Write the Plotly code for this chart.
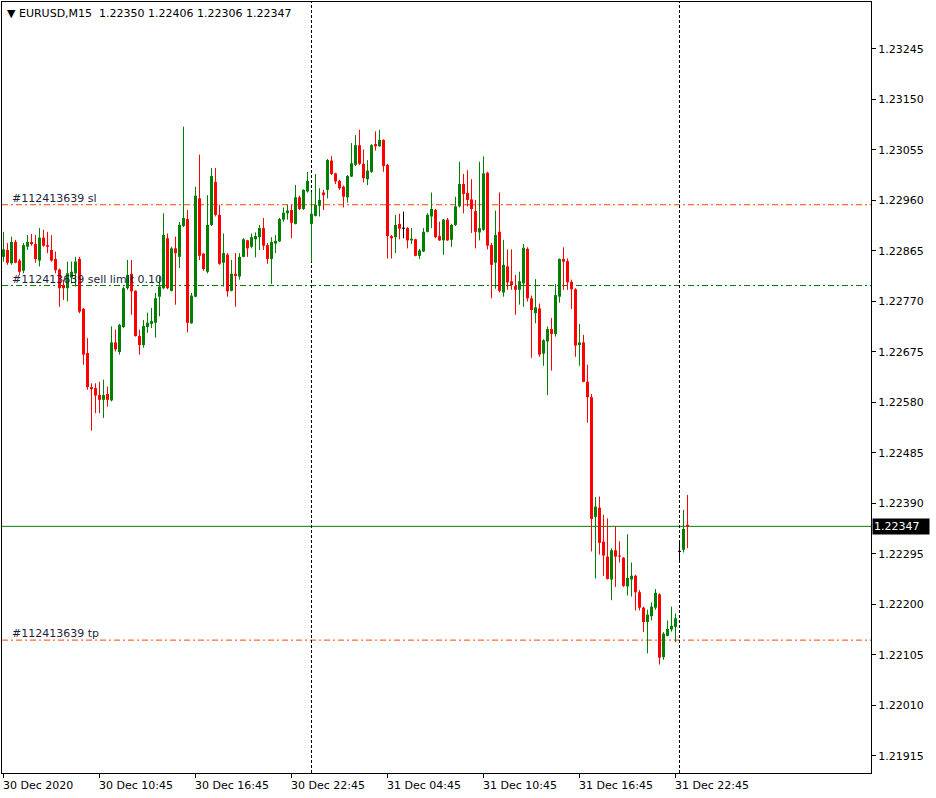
import pandas as pd
import plotly.graph_objects as go

# ---------------- data ----------------
header = "\u25BC EURUSD,M15\u00a0\u00a01.22350 1.22406 1.22306 1.22347"

opens = [
    1.22854, 1.22867, 1.22842, 1.22882, 1.22847, 1.22828, 1.22873, 1.22882, 1.22878, 1.22847,
    1.22890, 1.22876, 1.22867, 1.22850, 1.22830, 1.22801, 1.22795, 1.22815, 1.22823, 1.22850,
    1.22756, 1.22673, 1.22609, 1.22607, 1.22594, 1.22585, 1.22596, 1.22584, 1.22693, 1.22675,
    1.22722, 1.22795, 1.22822, 1.22790, 1.22705, 1.22688, 1.22722, 1.22728, 1.22730, 1.22779,
    1.22795, 1.22889, 1.22790, 1.22870, 1.22854, 1.22912, 1.22925, 1.22729, 1.22779, 1.22964,
    1.22860, 1.22826, 1.22914, 1.22995, 1.22933, 1.22843, 1.22858, 1.22790, 1.22822, 1.22817,
    1.22854, 1.22885, 1.22873, 1.22887, 1.22891, 1.22908, 1.22876, 1.22850, 1.22879, 1.22883,
    1.22924, 1.22936, 1.22942, 1.22916, 1.22966, 1.22944, 1.22977, 1.22916, 1.22931, 1.22950,
    1.22975, 1.22980, 1.23035, 1.23011, 1.22997, 1.22986, 1.22966, 1.23005, 1.23027, 1.23064,
    1.23029, 1.23000, 1.23014, 1.23066, 1.23062, 1.23074, 1.23027, 1.22893, 1.22891, 1.22916,
    1.22908, 1.22908, 1.22885, 1.22887, 1.22856, 1.22864, 1.22901, 1.22930, 1.22942, 1.22893,
    1.22885, 1.22924, 1.22886, 1.22914, 1.22949, 1.22991, 1.22974, 1.22962, 1.22940, 1.22900,
    1.22905, 1.23012, 1.22876, 1.22843, 1.22901, 1.22787, 1.22836, 1.22808, 1.22799, 1.22792,
    1.22804, 1.22869, 1.22776, 1.22748, 1.22757, 1.22672, 1.22695, 1.22718, 1.22709, 1.22779,
    1.22850, 1.22846, 1.22807, 1.22793, 1.22688, 1.22693, 1.22619, 1.22590, 1.22365, 1.22382,
    1.22318, 1.22290, 1.22247, 1.22302, 1.22292, 1.22288, 1.22234, 1.22247, 1.22254, 1.22223,
    1.22194, 1.22167, 1.22178, 1.22194, 1.22219, 1.22101, 1.22141, 1.22153, 1.22158, 1.22300,
    1.22303, 1.22350,
]
highs = [
    1.22901, 1.22880, 1.22892, 1.22886, 1.22850, 1.22880, 1.22895, 1.22897, 1.22895, 1.22908,
    1.22905, 1.22901, 1.22895, 1.22864, 1.22832, 1.22811, 1.22845, 1.22845, 1.22854, 1.22854,
    1.22758, 1.22701, 1.22616, 1.22616, 1.22619, 1.22623, 1.22610, 1.22723, 1.22717, 1.22728,
    1.22798, 1.22848, 1.22848, 1.22791, 1.22717, 1.22735, 1.22749, 1.22758, 1.22786, 1.22817,
    1.22936, 1.22898, 1.22873, 1.22892, 1.22920, 1.23099, 1.22942, 1.22786, 1.22986, 1.23046,
    1.22861, 1.22970, 1.23021, 1.23021, 1.22952, 1.22898, 1.22861, 1.22848, 1.22861, 1.22861,
    1.22889, 1.22886, 1.22898, 1.22900, 1.22914, 1.22927, 1.22880, 1.22891, 1.22895, 1.22927,
    1.22947, 1.22952, 1.22952, 1.22989, 1.22969, 1.22981, 1.23014, 1.22976, 1.23010, 1.22983,
    1.22980, 1.23038, 1.23044, 1.23012, 1.22999, 1.22988, 1.23008, 1.23068, 1.23083, 1.23093,
    1.23056, 1.23036, 1.23066, 1.23090, 1.23093, 1.23075, 1.23029, 1.22895, 1.22933, 1.22935,
    1.22939, 1.22910, 1.22908, 1.22888, 1.22869, 1.22908, 1.22936, 1.22975, 1.22944, 1.22920,
    1.22925, 1.22927, 1.22916, 1.22967, 1.23033, 1.23010, 1.23017, 1.23000, 1.22961, 1.23033,
    1.23043, 1.23014, 1.22880, 1.22941, 1.22975, 1.22886, 1.22868, 1.22868, 1.22820, 1.22826,
    1.22878, 1.22872, 1.22781, 1.22812, 1.22766, 1.22699, 1.22723, 1.22739, 1.22803, 1.22851,
    1.22872, 1.22851, 1.22811, 1.22795, 1.22728, 1.22707, 1.22651, 1.22596, 1.22402, 1.22403,
    1.22369, 1.22362, 1.22306, 1.22347, 1.22319, 1.22289, 1.22332, 1.22279, 1.22256, 1.22227,
    1.22196, 1.22190, 1.22204, 1.22229, 1.22221, 1.22148, 1.22170, 1.22196, 1.22183, 1.22317,
    1.22378, 1.22406,
]
lows = [
    1.22845, 1.22839, 1.22839, 1.22842, 1.22820, 1.22823, 1.22867, 1.22875, 1.22843, 1.22836,
    1.22873, 1.22861, 1.22845, 1.22823, 1.22760, 1.22773, 1.22770, 1.22804, 1.22798, 1.22748,
    1.22651, 1.22604, 1.22527, 1.22560, 1.22560, 1.22551, 1.22572, 1.22582, 1.22676, 1.22670,
    1.22720, 1.22792, 1.22745, 1.22704, 1.22670, 1.22683, 1.22711, 1.22720, 1.22702, 1.22742,
    1.22793, 1.22793, 1.22789, 1.22764, 1.22833, 1.22910, 1.22712, 1.22728, 1.22778, 1.22848,
    1.22828, 1.22823, 1.22912, 1.22930, 1.22839, 1.22798, 1.22779, 1.22789, 1.22760, 1.22811,
    1.22853, 1.22854, 1.22870, 1.22853, 1.22867, 1.22867, 1.22841, 1.22803, 1.22861, 1.22882,
    1.22920, 1.22924, 1.22889, 1.22915, 1.22942, 1.22942, 1.22975, 1.22845, 1.22930, 1.22930,
    1.22942, 1.22964, 1.23008, 1.22991, 1.22980, 1.22947, 1.22956, 1.23004, 1.23025, 1.23027,
    1.22994, 1.22989, 1.23012, 1.23054, 1.23061, 1.23014, 1.22851, 1.22851, 1.22861, 1.22887,
    1.22889, 1.22870, 1.22878, 1.22855, 1.22850, 1.22863, 1.22900, 1.22908, 1.22889, 1.22884,
    1.22858, 1.22884, 1.22873, 1.22912, 1.22947, 1.22936, 1.22949, 1.22899, 1.22870, 1.22885,
    1.22903, 1.22868, 1.22776, 1.22794, 1.22787, 1.22779, 1.22792, 1.22792, 1.22745, 1.22764,
    1.22760, 1.22770, 1.22664, 1.22729, 1.22666, 1.22649, 1.22594, 1.22640, 1.22704, 1.22768,
    1.22792, 1.22792, 1.22756, 1.22666, 1.22649, 1.22618, 1.22542, 1.22300, 1.22249, 1.22294,
    1.22254, 1.22247, 1.22208, 1.22233, 1.22279, 1.22233, 1.22217, 1.22215, 1.22189, 1.22189,
    1.22148, 1.22108, 1.22170, 1.22190, 1.22087, 1.22096, 1.22140, 1.22149, 1.22129, 1.22279,
    1.22298, 1.22306,
]
closes = [
    1.22868, 1.22843, 1.22882, 1.22843, 1.22826, 1.22876, 1.22882, 1.22878, 1.22850, 1.22890,
    1.22875, 1.22873, 1.22847, 1.22829, 1.22795, 1.22795, 1.22823, 1.22826, 1.22845, 1.22751,
    1.22670, 1.22609, 1.22605, 1.22593, 1.22585, 1.22594, 1.22585, 1.22693, 1.22680, 1.22726,
    1.22795, 1.22820, 1.22789, 1.22705, 1.22688, 1.22724, 1.22730, 1.22733, 1.22776, 1.22798,
    1.22895, 1.22795, 1.22870, 1.22861, 1.22914, 1.22927, 1.22730, 1.22781, 1.22969, 1.22856,
    1.22831, 1.22914, 1.23006, 1.22933, 1.22841, 1.22861, 1.22789, 1.22822, 1.22818, 1.22854,
    1.22887, 1.22870, 1.22891, 1.22893, 1.22908, 1.22875, 1.22850, 1.22882, 1.22884, 1.22925,
    1.22937, 1.22941, 1.22918, 1.22966, 1.22944, 1.22980, 1.22997, 1.22935, 1.22952, 1.22961,
    1.22970, 1.23036, 1.23010, 1.22996, 1.22983, 1.22967, 1.23006, 1.23030, 1.23064, 1.23029,
    1.23002, 1.23016, 1.23064, 1.23062, 1.23074, 1.23025, 1.22893, 1.22889, 1.22914, 1.22907,
    1.22908, 1.22885, 1.22888, 1.22856, 1.22866, 1.22901, 1.22933, 1.22944, 1.22891, 1.22885,
    1.22924, 1.22885, 1.22914, 1.22949, 1.22991, 1.22972, 1.22961, 1.22944, 1.22901, 1.22908,
    1.23011, 1.22875, 1.22839, 1.22895, 1.22790, 1.22839, 1.22806, 1.22801, 1.22792, 1.22808,
    1.22871, 1.22776, 1.22754, 1.22759, 1.22670, 1.22697, 1.22718, 1.22709, 1.22782, 1.22850,
    1.22845, 1.22806, 1.22793, 1.22687, 1.22693, 1.22619, 1.22590, 1.22361, 1.22384, 1.22316,
    1.22292, 1.22248, 1.22302, 1.22290, 1.22290, 1.22235, 1.22250, 1.22254, 1.22223, 1.22194,
    1.22167, 1.22181, 1.22196, 1.22222, 1.22100, 1.22145, 1.22154, 1.22160, 1.22174, 1.22300,
    1.22342, 1.22347,
]

# bar times (M15): 30 Dec 04:45 .. 31 Dec 22:45, then the new-week open on 04 Jan
times = list(pd.date_range("2020-12-30 04:45", "2020-12-31 22:45", freq="15min")) + \
        list(pd.date_range("2021-01-04 00:00", periods=3, freq="15min"))

tick_times = ["2020-12-30 04:45", "2020-12-30 10:45", "2020-12-30 16:45", "2020-12-30 22:45",
              "2020-12-31 04:45", "2020-12-31 10:45", "2020-12-31 16:45", "2020-12-31 22:45"]
tick_labels = ["30 Dec 2020", "30 Dec 10:45", "30 Dec 16:45", "30 Dec 22:45",
               "31 Dec 04:45", "31 Dec 10:45", "31 Dec 16:45", "31 Dec 22:45"]

price_ticks = [1.21915, 1.22010, 1.22105, 1.22200, 1.22295, 1.22390, 1.22485, 1.22580,
               1.22675, 1.22770, 1.22865, 1.22960, 1.23055, 1.23150, 1.23245]

order_id = "#112413639"
sl_price = 1.22952
limit_price = 1.22800
tp_price = 1.22133
limit_text = "sell limit 0.10"

# ---------------- styling ----------------
UP = "#008000"
DOWN = "#FF0000"
DOJI = "#000000"
ORDER_RED = "#FF4500"
ORDER_GREEN = "#007800"
FONT = "DejaVu Sans"
TXT = "#1e1e3c"
PIP_MIN = 0.00002  # a body is at least one pixel tall

ts = [pd.Timestamp(t) for t in times]
tick_idx = [ts.index(pd.Timestamp(t)) for t in tick_times]
separators = [i for i in range(1, len(ts)) if ts[i].date() != ts[i - 1].date()]

groups = {UP: [], DOWN: [], DOJI: []}
for i, (o, h, l, c) in enumerate(zip(opens, highs, lows, closes)):
    col = UP if c > o else (DOWN if c < o else DOJI)
    groups[col].append((i, o, h, l, c))

fig = go.Figure()
for col, items in groups.items():
    if not items:
        continue
    wx, wy = [], []
    for i, o, h, l, c in items:
        wx += [i, i, None]
        wy += [l, h, None]
    fig.add_trace(go.Scatter(x=wx, y=wy, mode="lines", line=dict(color=col, width=1),
                             hoverinfo="skip", showlegend=False))
    bx = [it[0] for it in items]
    bb, bh = [], []
    for i, o, h, l, c in items:
        lo, hi = min(o, c), max(o, c)
        hgt = max(hi - lo, PIP_MIN)
        bb.append((lo + hi) / 2 - hgt / 2)
        bh.append(hgt)
    fig.add_trace(go.Bar(x=bx, y=bh, base=bb, width=0.75,
                         marker=dict(color=col, line=dict(width=0)),
                         hoverinfo="skip", showlegend=False))

shapes = []
for p, col in [(sl_price, ORDER_RED), (limit_price, ORDER_GREEN), (tp_price, ORDER_RED)]:
    shapes.append(dict(type="line", xref="paper", yref="y", x0=0, x1=1, y0=p, y1=p,
                       line=dict(color=col, width=1, dash="6px,3px,2px,3px"), layer="below"))
bid = closes[-1]
shapes.append(dict(type="line", xref="paper", yref="y", x0=0, x1=1, y0=bid, y1=bid,
                   line=dict(color=UP, width=1), layer="below"))
for s in separators:
    shapes.append(dict(type="line", xref="x", yref="paper", x0=s, x1=s, y0=0, y1=1,
                       line=dict(color="#000000", width=1, dash="3px,2px"), layer="below"))

ann = []
for idx, lab in zip(tick_idx, tick_labels):
    ann.append(dict(x=idx, y=0, xref="x", yref="paper", text=lab, showarrow=False,
                    xanchor="left", yanchor="top", xshift=-3, yshift=-4,
                    font=dict(family=FONT, size=11, color="#000000")))
ann.append(dict(x=0, y=1, xref="paper", yref="paper", text=header, showarrow=False,
                xanchor="left", yanchor="top", xshift=3, yshift=-3,
                font=dict(family=FONT, size=11, color="#000000")))
for p, txt in [(sl_price, f"{order_id} sl"), (limit_price, f"{order_id} {limit_text}"),
               (tp_price, f"{order_id} tp")]:
    ann.append(dict(x=0, y=p, xref="paper", yref="y", text=txt, showarrow=False,
                    xanchor="left", yanchor="bottom", xshift=8, yshift=-2,
                    font=dict(family=FONT, size=11, color=TXT)))
ann.append(dict(x=1, y=bid, xref="paper", yref="y", text=f"{bid:.5f}", showarrow=False,
                xanchor="left", yanchor="middle", xshift=1, bgcolor="#000000", borderpad=1,
                width=54, height=13, align="left",
                font=dict(family=FONT, size=11, color="#FFFFFF")))

fig.update_layout(
    width=936, height=798,
    margin=dict(l=2, r=65, t=2, b=25),
    paper_bgcolor="#FFFFFF", plot_bgcolor="#FFFFFF",
    barmode="overlay", hovermode=False, showlegend=False,
    shapes=shapes, annotations=ann,
    xaxis=dict(range=[-0.375, 216.875], showgrid=False, zeroline=False,
               showline=True, mirror=True, linecolor="#000000", linewidth=1,
               tickmode="array", tickvals=tick_idx, ticks="outside", ticklen=4,
               tickcolor="#000000", showticklabels=False, fixedrange=True),
    yaxis=dict(range=[1.21883, 1.233334], side="right", showgrid=False, zeroline=False,
               showline=True, mirror=True, linecolor="#000000", linewidth=1,
               tickmode="array", tickvals=price_ticks,
               ticktext=[f"{v:.5f}" for v in price_ticks],
               ticks="outside", ticklen=4, tickcolor="#000000",
               tickfont=dict(family=FONT, size=11, color="#000000"), fixedrange=True),
)

fig.write_html(
    "out.html",
    config={"displayModeBar": False, "staticPlot": True},
    post_script="document.body.style.margin='0';document.body.style.overflow='hidden';",
)
